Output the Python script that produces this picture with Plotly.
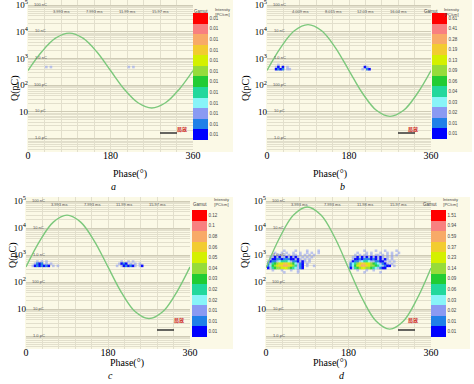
import math
import plotly.graph_objects as go

FIG_W, FIG_H = 474, 384

# ---------------- data ----------------
PHASE_TICKS = [0, 180, 360]
PHASE_TICK_TEXT = ["0", "180", "360"]
Q_TICK_VALS = [1, 10, 100, 1000, 10000, 100000]
Q_TICK_TEXT = ["", "10", "10<sup>2</sup>", "10<sup>3</sup>", "10<sup>4</sup>", "10<sup>5</sup>"]
INNER_Q_LABELS = ["1.0 pC", "10 pC", "100 pC", "1.0 nC", "10 nC", "100 nC"]
TIME_PHASES = [72, 144, 216, 288]
TIME_LABELS_A = ["3.993 ms", "7.993 ms", "11.99 ms", "15.97 ms"]
TIME_LABELS_B = ["4.009 ms", "8.015 ms", "12.03 ms", "16.04 ms"]
TIME_LABELS_C = ["3.993 ms", "7.993 ms", "11.99 ms", "15.97 ms"]
TIME_LABELS_D = ["3.993 ms", "7.993 ms", "11.98 ms", "15.97 ms"]

SINE_PHASE = [0, 30, 60, 90, 120, 150, 180, 210, 240, 270, 300, 330, 360]
SINE_A = [355, 1780, 5750, 8910, 5750, 1780, 355, 71, 22, 14, 22, 71, 355]
SINE_B = [355, 2570, 10960, 18620, 10960, 2570, 355, 49, 11.5, 6.8, 11.5, 49, 355]
SINE_C = [363, 3310, 16600, 30200, 16600, 3310, 363, 40, 7.9, 4.4, 7.9, 40, 363]
SINE_D = [331, 4470, 30200, 60300, 30200, 4470, 331, 24.5, 3.6, 1.8, 3.6, 24.5, 331]

LEVEL_COLORS = ["#0000ff", "#2080e8", "#8a9af2", "#88f4f8", "#22d89c", "#22cc33",
                "#96dc3a", "#d4f000", "#f2cc30", "#f8aa68", "#f88080", "#ff0000"]
INTENSITY_A = ["0.01", "0.01", "0.01", "0.01", "0.01", "0.01",
               "0.01", "0.01", "0.01", "0.01", "0.01", "0.01"]
INTENSITY_B = ["0.01", "0.01", "0.02", "0.03", "0.04", "0.06",
               "0.09", "0.13", "0.19", "0.28", "0.41", "0.61"]
INTENSITY_C = ["0.01", "0.01", "0.01", "0.02", "0.02", "0.03",
               "0.04", "0.05", "0.06", "0.08", "0.1", "0.12"]
INTENSITY_D = ["0.01", "0.01", "0.02", "0.03", "0.06", "0.09",
               "0.14", "0.23", "0.37", "0.59", "0.94", "1.51"]

# discharge clouds: rows of intensity levels (1..c), '.' = none
LOG_ROWS = [3.16, 3.08, 3.00, 2.92, 2.84, 2.76, 2.68, 2.60, 2.52, 2.44, 2.36, 2.28]
PHASE_STEP = 5
CLOUDS_A = [(40, 6, ["3.3"]), (220, 6, ["3.3"])]
CLOUDS_B = [
    (20, 5, [".3.....",
             "31.1.3.",
             "1212.33"]),
    (210, 6, [".13.",
              "3.21"]),
]
CLOUDS_C = [
    (15, 5, ["..3.3.3.....",
             ".3212.3.3...",
             "31212121.3.3"]),
    (200, 5, ["..3..3.3....",
              ".3121.3.3.3.",
              "3.3121213.31"]),
]
CLOUDS_D = [
    (5, 0, [".......3....3....3....3",
            "...3..3.3..3..3..3.3..3",
            "..3.33.3.3.33.3.3.3.3..",
            ".3313133131313.3.3.3...",
            ".31122122211313.3.3....",
            "31223455543221313.3....",
            "2356788998764321.3.....",
            "2467899aa9875321.3..3..",
            "1356778887654321.......",
            "..3...3...3..3.........",
            ".......3.....3........."]),
    (185, 0, ["......3....3...3....3.",
              "...3...3.3...3..3.3..3",
              "..3.3.33.3.33.3.3.3.3.",
              ".33131313131313.3.3...",
              ".3112122212131313.3...",
              "3122345543322113.3.3..",
              "24578998876543213.3...",
              "24689aa98776543211.3..",
              "1356788776543211......",
              "...3...3..3...........",
              "......3......3........"]),
]

# ---------------- layout geometry (pixels) ----------------
PANELS = [
    dict(letter="a", plot=(28, 193, 0, 152), cream=(27, 233, 0, 152), yr=(-0.5, 5.19),
         cbar=(193, 13, 140), sine=SINE_A, clouds=CLOUDS_A, cbt=INTENSITY_A, times=TIME_LABELS_A),
    dict(letter="b", plot=(267, 431, 0, 152), cream=(266, 472, 0, 152), yr=(-0.5, 5.19),
         cbar=(432, 13, 139), sine=SINE_B, clouds=CLOUDS_B, cbt=INTENSITY_B, times=TIME_LABELS_B),
    dict(letter="c", plot=(26, 190, 197, 349), cream=(25, 233, 197, 349), yr=(-0.48, 5.15),
         cbar=(192, 210, 337), sine=SINE_C, clouds=CLOUDS_C, cbt=INTENSITY_C, times=TIME_LABELS_C),
    dict(letter="d", plot=(266, 431, 197, 349), cream=(265, 470, 197, 349), yr=(-0.48, 5.15),
         cbar=(431, 210, 337), sine=SINE_D, clouds=CLOUDS_D, cbt=INTENSITY_D, times=TIME_LABELS_D),
]


def fx(p):
    return p / FIG_W


def fy(p):
    return 1 - p / FIG_H


CREAM = "#fbf9e6"
GRID_MINOR = "#e2dfcc"
GRID_MAJOR = "#cfcbb6"
SERIF = "Liberation Serif"
SANS = "Liberation Sans"

colorscale = []
for k, col in enumerate(LEVEL_COLORS):
    colorscale.append([k / 12, col])
    colorscale.append([(k + 1) / 12, col])

minor_log_vals = [m * 10 ** e for e in range(-1, 6) for m in range(2, 10)]

fig = go.Figure()
layout = dict(width=FIG_W, height=FIG_H,
              margin=dict(l=0, r=0, t=0, b=0, pad=0, autoexpand=False),
              paper_bgcolor="white", plot_bgcolor="rgba(0,0,0,0)", showlegend=False)
shapes = []
annotations = []

for i, p in enumerate(PANELS):
    sfx = "" if i == 0 else str(i + 1)
    xa, ya = "x" + sfx, "y" + sfx
    x0, x1, y0, y1 = p["plot"]
    layout["xaxis" + sfx] = dict(
        domain=[fx(x0), fx(x1)], range=[0, 360], anchor=ya,
        tickmode="array", tickvals=PHASE_TICKS, ticktext=PHASE_TICK_TEXT,
        showgrid=True, gridcolor=GRID_MINOR, gridwidth=1,
        minor=dict(tickmode="linear", tick0=0, dtick=36, showgrid=True, gridcolor=GRID_MINOR, gridwidth=1),
        zeroline=False, showline=False, ticks="", automargin=False, ticklabelstandoff=-4,
        ticklabeloverflow="allow",
        tickfont=dict(family=SERIF, size=10, color="black"), fixedrange=True)
    layout["yaxis" + sfx] = dict(
        domain=[fy(y1), fy(y0)], type="log", range=list(p["yr"]), anchor=xa,
        tickmode="array", tickvals=Q_TICK_VALS, ticktext=Q_TICK_TEXT,
        showgrid=True, gridcolor=GRID_MAJOR, gridwidth=1,
        minor=dict(tickmode="array", tickvals=minor_log_vals, showgrid=True, gridcolor=GRID_MINOR, gridwidth=1),
        zeroline=False, showline=False, ticks="", automargin=False, ticklabeloverflow="allow",
        ticklabelstandoff=-1,
        tickfont=dict(family=SERIF, size=9, color="black"), fixedrange=True)

    cx0, cx1, cy0, cy1 = p["cream"]
    shapes.append(dict(type="rect", xref="paper", yref="paper", x0=fx(cx0), x1=fx(cx1),
                       y0=fy(cy1), y1=fy(cy0), fillcolor=CREAM, line=dict(width=0), layer="below"))

    # cloud points
    xs, ys, cs, ops = [], [], [], []
    for phase0, row0, rows in p["clouds"]:
        for r, row in enumerate(rows):
            for j, ch in enumerate(row):
                if ch == ".":
                    continue
                lvl = int(ch, 16)
                xs.append(phase0 + j * PHASE_STEP)
                ys.append(10 ** LOG_ROWS[row0 + r])
                cs.append(lvl - 0.5)
                ops.append(0.55 if lvl == 3 else 0.95)
    cbx, cby0, cby1 = p["cbar"]
    fig.add_trace(go.Scatter(
        x=xs, y=ys, mode="markers", xaxis=xa, yaxis=ya, hoverinfo="skip",
        marker=dict(symbol="square", size=2.6, line=dict(width=0), color=cs, opacity=ops,
                    colorscale=colorscale, cmin=0, cmax=12, showscale=True,
                    colorbar=dict(x=fx(cbx), xanchor="left", y=fy((cby0 + cby1) / 2), yanchor="middle",
                                  len=(cby1 - cby0) / FIG_H, lenmode="fraction",
                                  thickness=15, thicknessmode="pixels", xpad=0, ypad=0,
                                  outlinewidth=0, tickmode="array",
                                  tickvals=[k + 0.5 for k in range(12)], ticktext=p["cbt"],
                                  ticks="",
                                  tickfont=dict(family=SANS, size=4.5, color="#444")))))
    fig.add_trace(go.Scatter(
        x=SINE_PHASE, y=p["sine"], mode="lines", xaxis=xa, yaxis=ya, hoverinfo="skip",
        line=dict(color="#7cc87c", width=1.4, shape="spline", smoothing=1.0)))

    # inner charge labels
    for q, lab in zip(Q_TICK_VALS, INNER_Q_LABELS):
        annotations.append(dict(x=28, y=math.log10(q), xref=xa, yref=ya, text=lab, showarrow=False,
                                font=dict(family=SANS, size=4, color="#555"), yshift=1))
    # time labels
    for ph, lab in zip(TIME_PHASES, p["times"]):
        annotations.append(dict(x=ph, y=fy(y0 + 7), xref=xa, yref="paper", text=lab, showarrow=False,
                                font=dict(family=SANS, size=4, color="#555")))
    # colorbar headers
    annotations.append(dict(x=fx(cbx + 8), y=fy(cby0 - 6), xref="paper", yref="paper", text="Gamut",
                            showarrow=False, font=dict(family=SANS, size=4.5, color="#444")))
    annotations.append(dict(x=fx(cbx + 29), y=fy(cby0 - 8), xref="paper", yref="paper",
                            text="Intensity<br>[PC/cm]", showarrow=False,
                            font=dict(family=SANS, size=4, color="#444")))
    # small logo
    shapes.append(dict(type="line", xref="paper", yref="paper", x0=fx(x1 - 33), x1=fx(x1 - 16),
                       y0=fy(y1 - 19), y1=fy(y1 - 19), line=dict(color="#333", width=1.5)))
    annotations.append(dict(x=fx(x1 - 11), y=fy(y1 - 23), xref="paper", yref="paper", text="<b>局放</b>",
                            showarrow=False, font=dict(family="Noto Sans CJK SC", size=5, color="#cc2222")))
    # titles
    midx = (x0 + x1) / 2
    annotations.append(dict(x=fx(midx), y=fy(y1 + 22), xref="paper", yref="paper", text="Phase(°)",
                            showarrow=False, font=dict(family=SERIF, size=10, color="black")))
    annotations.append(dict(x=fx(x0 - 21), y=fy((y0 + y1) / 2 - 3), xref="paper", yref="paper",
                            text="Q(pC)", textangle=-90, showarrow=False,
                            font=dict(family=SERIF, size=10, color="black")))
    annotations.append(dict(x=fx(midx - 2), y=fy(y1 + 34), xref="paper", yref="paper", text="<i>" + p["letter"] + "</i>",
                            showarrow=False, font=dict(family=SERIF, size=10, color="black")))

layout["shapes"] = shapes
layout["annotations"] = annotations
fig.update_layout(**layout)
fig.write_html("out.html", config={"displayModeBar": False},
               post_script="document.body.style.margin='0';document.body.style.padding='0';")
